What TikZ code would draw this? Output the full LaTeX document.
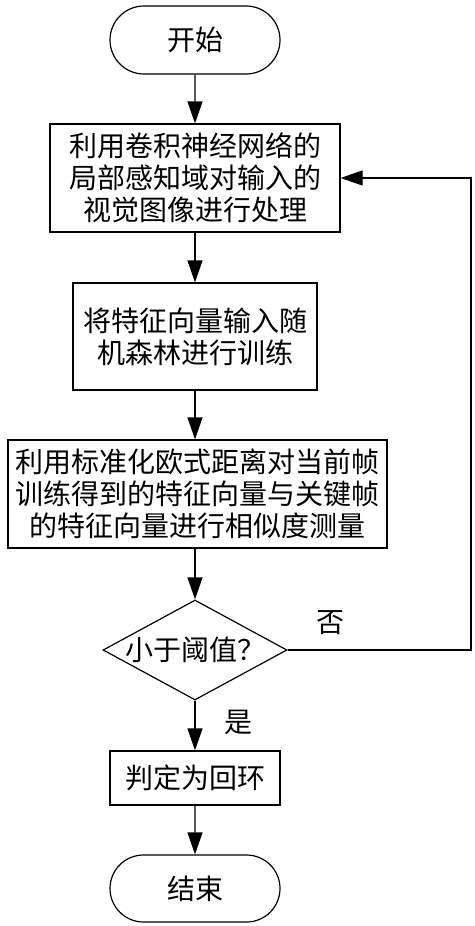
\documentclass[tikz,border=0pt]{standalone}
\usepackage{fontspec}
\newfontfamily\cjk{Noto Sans CJK SC}
\usetikzlibrary{shapes.geometric,shapes.misc,arrows.meta}
\begin{document}
\begin{tikzpicture}[x=1pt,y=-1pt,
  every node/.style={font=\cjk\fontsize{28}{32}\selectfont, line width=1.2pt, inner sep=0pt},
  term/.style={draw, rounded rectangle, minimum width=170pt},
  proc/.style={draw, rectangle, align=center},
  dec/.style={draw, diamond, minimum width=184pt, minimum height=100pt, aspect=1.84},
  arr/.style={line width=1.2pt, -{Triangle[length=22pt,width=15pt]}},
  lin/.style={line width=1.2pt}]
\useasboundingbox (0,0) rectangle (474,926);
\node[term, minimum height=68pt] (start) at (195,40) {开始};
\node[proc, minimum width=290pt, minimum height=108pt] (b1) at (195,178) {利用卷积神经网络的\\局部感知域对输入的\\视觉图像进行处理};
\node[proc, minimum width=244pt, minimum height=107pt] (b2) at (195,336.5) {将特征向量输入随\\机森林进行训练};
\node[proc, minimum width=379pt, minimum height=108pt] (b3) at (197.5,494) {利用标准化欧式距离对当前帧\\训练得到的特征向量与关键帧\\的特征向量进行相似度测量};
\node[dec] (d) at (195,650) {\makebox[0pt]{小于阈值？}};
\node[proc, minimum width=170pt, minimum height=54pt] (b4) at (195,778) {判定为回环};
\node[term, minimum height=67pt] (end) at (195,888.5) {结束};
\node (no) at (330,623) {否};
\node (yes) at (238,722) {是};
\coordinate (c1) at (471,650);
\coordinate (c2) at (471,178);
\draw[arr] (start) -- (b1);
\draw[arr] (b1) -- (b2);
\draw[arr] (b2) -- (b2.south |- b3.north);
\draw[arr] (b2.south |- b3.south) -- (d.north);
\draw[arr] (d) -- (b4);
\draw[arr] (b4) -- (end);
\draw[arr] (d.east) -- (c1) -- (c2) -- (b1.east);
\end{tikzpicture}
\end{document}
